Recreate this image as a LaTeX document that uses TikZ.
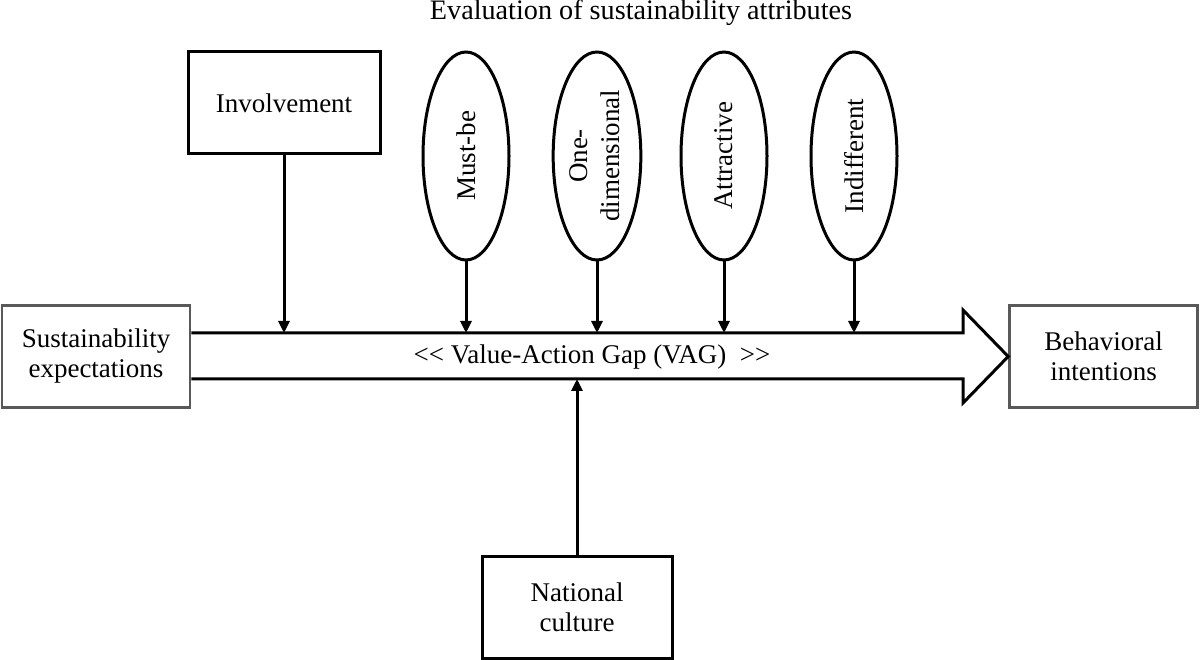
\documentclass[tikz,border=0pt]{standalone}
\usepackage{fontspec}
\setmainfont{Liberation Serif}
\usetikzlibrary{arrows.meta,shapes.geometric,positioning}

\tikzset{
  box/.style={draw,line width=3pt,minimum width=192pt,minimum height=102pt,align=center,inner sep=0pt},
  endbox/.style={box,draw=black!65,line width=2.6pt,minimum width=188pt},
  attr/.style={draw,ellipse,line width=3pt,minimum width=86pt,minimum height=208pt,inner sep=0pt},
  link/.style={->,line width=3pt}
}

\begin{document}
\begin{tikzpicture}[x=1pt,y=-1pt,>={Triangle[length=12pt,width=11pt]},font=\fontsize{27}{30}\selectfont]
  \useasboundingbox (0,0) rectangle (1200,660);

  % title
  \node[font=\fontsize{28.2}{32}\selectfont] (title) at (641,13) {Evaluation of sustainability attributes};

  % boxes
  \node[box] (inv) at (284,103) {Involvement};
  \node[endbox] (se) at (96,356.5) {Sustainability\\expectations};
  \node[endbox] (bi) at (1103.5,356.5) {Behavioral\\intentions};
  \node[box,minimum width=190pt] (nc) at (577,607) {National\\culture};

  % attribute ellipses
  \node[attr] (mb) at (466,156) {\rotatebox{90}{Must-be}};
  \node[attr] (od) at (597,156) {\rotatebox{90}{\begin{tabular}{@{}c@{}}One-\\[2pt]dimensional\end{tabular}}};
  \node[attr] (at) at (724,156) {\rotatebox{90}{Attractive}};
  \node[attr] (in) at (854,156) {\rotatebox{90}{Indifferent}};

  % value-action gap arrow
  \draw[line width=3pt,line join=miter]
    (se.east |- 0,333) -- (963,333) -- (963,310) -- (bi.west) -- (963,403)
    -- (963,379) -- (se.east |- 0,379);
  \node (vag) at (592,357) {<{}< Value-Action Gap (VAG) \ >{}>};
  \coordinate (gaptop) at (0,333);
  \coordinate (gapbot) at (0,379);

  % influences
  \draw[link] (inv.south) -- (inv.south |- gaptop);
  \foreach \a in {mb,od,at,in}
    \draw[link] (\a.south) -- (\a.south |- gaptop);
  \draw[link] (nc.north) -- (nc.north |- gapbot);
\end{tikzpicture}
\end{document}
